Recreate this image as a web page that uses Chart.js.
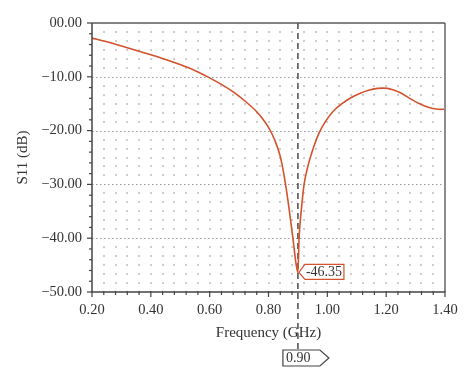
<!DOCTYPE html>
<html><head><meta charset="utf-8">
<script src="https://cdn.jsdelivr.net/npm/chart.js@4"></script>
<style>html,body{margin:0;padding:0;background:#fff}#wrap{width:474px;height:383px;position:relative}</style>
</head><body><div id="wrap"><canvas id="c"></canvas></div>
<script>
// ---- data ----
const frequencyGHz = [0.20,0.24,0.28,0.32,0.36,0.40,0.44,0.48,0.52,0.56,0.60,0.64,0.68,0.72,0.76,0.78,0.80,0.82,0.84,0.855,0.87,0.883,0.893,0.90,0.904,0.912,0.921,0.93,0.94,0.955,0.974,0.995,1.02,1.05,1.08,1.11,1.14,1.17,1.19,1.22,1.25,1.28,1.31,1.34,1.37,1.385,1.40];
const s11dB = [-2.8,-3.35,-3.95,-4.6,-5.25,-5.9,-6.6,-7.35,-8.15,-9.1,-10.2,-11.4,-12.8,-14.5,-16.5,-17.8,-19.4,-21.6,-24.8,-29.0,-34.5,-40.0,-44.5,-46.35,-40.0,-34.5,-30.0,-27.5,-25.4,-22.8,-20.2,-18.2,-16.4,-15.0,-13.9,-13.1,-12.5,-12.15,-12.1,-12.35,-13.0,-14.0,-14.9,-15.6,-16.0,-16.05,-16.0];
const xTickValues = [0.2,0.4,0.6,0.8,1.0,1.2,1.4];
const xTickLabels = ['0.20','0.40','0.60','0.80','1.00','1.20','1.40'];
const yTickValues = [0,-10,-20,-30,-40,-50];
const yTickLabels = ['00.00','\u221210.00','\u221220.00','\u221230.00','\u221240.00','\u221250.00'];
const markerFreq = [0.90];
const markerS11 = [-46.35];
const markerFreqLabel = ['0.90'];
const markerS11Label = ['-46.35'];

const SERIF = '"Liberation Serif", "DejaVu Serif", serif';
const CURVE = '#d2532c';

function lookup(vals, labels, v){
  for (let i=0;i<vals.length;i++) if (Math.abs(vals[i]-v)<1e-6) return labels[i];
  return '';
}

const framePlugin = {
  id:'frame',
  beforeDatasetsDraw(chart){
    const {ctx, chartArea:a, scales:{x,y}} = chart;
    ctx.save();
    // minor grid dots
    ctx.fillStyle = '#a8a8a8';
    const xMin = x.min, xMax = x.max, xStep = 0.04;
    const yStep = 10/6;
    for (let i=1; xMin + i*xStep < xMax - 1e-6; i++){
      const px = Math.round(x.getPixelForValue(xMin + i*xStep));
      for (let j=1; -j*yStep > y.min + 1e-6; j++){
        if (j % 6 === 0) continue;
        const py = Math.round(y.getPixelForValue(-j*yStep));
        ctx.fillRect(px-0.75, py-0.75, 1.5, 1.5);
      }
    }
    // major horizontal dotted lines
    ctx.strokeStyle = '#9a9a9a';
    ctx.lineWidth = 1;
    ctx.setLineDash([1.5,2.5]);
    yTickValues.forEach(v=>{
      if (v===y.max || v===y.min) return;
      const py = Math.round(y.getPixelForValue(v))+0.5;
      ctx.beginPath(); ctx.moveTo(a.left, py); ctx.lineTo(a.right, py); ctx.stroke();
    });
    // marker dashed line
    const mx = x.getPixelForValue(markerFreq[0]);
    ctx.strokeStyle = '#555';
    ctx.lineWidth = 1.6;
    ctx.setLineDash([6,4]);
    ctx.beginPath(); ctx.moveTo(mx, a.top); ctx.lineTo(mx, a.bottom + 58); ctx.stroke();
    ctx.restore();
  },
  afterDatasetsDraw(chart){
    const {ctx, chartArea:a, scales:{x,y}} = chart;
    ctx.save();
    ctx.setLineDash([]);
    // right border
    ctx.strokeStyle = '#8c8c8c'; ctx.lineWidth = 2;
    ctx.beginPath(); ctx.moveTo(a.right, a.top); ctx.lineTo(a.right, a.bottom); ctx.stroke();
    // top border
    ctx.strokeStyle = '#5a5a5a'; ctx.lineWidth = 1.5;
    ctx.beginPath(); ctx.moveTo(a.left, a.top); ctx.lineTo(a.right, a.top); ctx.stroke();
    // left & bottom axes
    ctx.strokeStyle = '#444'; ctx.lineWidth = 1.5;
    ctx.beginPath(); ctx.moveTo(a.left, a.top); ctx.lineTo(a.left, a.bottom); ctx.lineTo(a.right, a.bottom); ctx.stroke();
    // y ticks every 2 dB
    ctx.lineWidth = 1.2;
    for (let v=0; v>=y.min-1e-6; v-=2){
      const py = y.getPixelForValue(v);
      const major = Math.abs(v % 10) < 1e-6;
      ctx.beginPath(); ctx.moveTo(a.left, py); ctx.lineTo(a.left - (major?5:3), py); ctx.stroke();
    }
    // x ticks every 0.04 GHz
    for (let i=0; x.min + i*0.04 <= x.max + 1e-6; i++){
      const px = x.getPixelForValue(x.min + i*0.04);
      const major = i % 5 === 0;
      ctx.beginPath(); ctx.moveTo(px, a.bottom - 1); ctx.lineTo(px, a.bottom + (major?5:3)); ctx.stroke();
    }
    // marker labels
    const mx = x.getPixelForValue(markerFreq[0]);
    const my = y.getPixelForValue(markerS11[0]);
    // value box (orange, pointer to the left)
    ctx.fillStyle = '#fff'; ctx.strokeStyle = CURVE; ctx.lineWidth = 1.2;
    const bl = mx + 7, bt = my - 8, bw = 39, bh = 15;
    ctx.beginPath();
    ctx.moveTo(mx + 1, my);
    ctx.lineTo(bl, bt); ctx.lineTo(bl + bw, bt); ctx.lineTo(bl + bw, bt + bh); ctx.lineTo(bl, bt + bh);
    ctx.closePath(); ctx.fill(); ctx.stroke();
    ctx.fillStyle = '#333'; ctx.font = '14px ' + SERIF; ctx.textBaseline = 'middle'; ctx.textAlign = 'left';
    ctx.fillText(markerS11Label[0], bl + 1, bt + bh/2 + 0.5);
    // frequency box (dark, pointer to the right)
    const fl = mx - 15, ft = a.bottom + 58, fw = 37, fh = 16;
    ctx.fillStyle = '#fff'; ctx.strokeStyle = '#444'; ctx.lineWidth = 1.2;
    ctx.beginPath();
    ctx.moveTo(fl, ft); ctx.lineTo(fl + fw, ft); ctx.lineTo(fl + fw + 9, ft + fh/2); ctx.lineTo(fl + fw, ft + fh); ctx.lineTo(fl, ft + fh);
    ctx.closePath(); ctx.fill(); ctx.stroke();
    ctx.fillStyle = '#333';
    ctx.fillText(markerFreqLabel[0], fl + 3, ft + fh/2 + 0.5);
    ctx.restore();
  }
};

new Chart(document.getElementById('c'), {
  type:'line',
  data:{
    labels: frequencyGHz,
    datasets:[{
      data: frequencyGHz.map((f,i)=>({x:f, y:s11dB[i]})),
      borderColor: CURVE,
      borderWidth: 1.6,
      pointRadius: 0,
      fill: false,
      cubicInterpolationMode: 'monotone'
    }]
  },
  options:{
    responsive:true, maintainAspectRatio:false, animation:false, devicePixelRatio:1,
    layout:{padding:{top:23, right:29, left:0, bottom:0}},
    plugins:{legend:{display:false}, tooltip:{enabled:false}},
    scales:{
      x:{
        type:'linear', min:0.2, max:1.4,
        grid:{display:false, drawTicks:false}, border:{display:false},
        ticks:{stepSize:0.2, padding:9, color:'#333', font:{family:SERIF, size:14.5},
               maxRotation:0, autoSkip:false,
               callback:(v)=>lookup(xTickValues, xTickLabels, v)},
        title:{display:true, text:'Frequency (GHz)', color:'#333', font:{family:SERIF, size:15}, padding:{top:0, bottom:41}},
        afterFit:(s)=>{ s.height = 91; }
      },
      y:{
        min:-50, max:0,
        grid:{display:false, drawTicks:false}, border:{display:false},
        ticks:{stepSize:10, padding:10, color:'#333', font:{family:SERIF, size:14.5},
               callback:(v)=>lookup(yTickValues, yTickLabels, v)},
        title:{display:true, text:'S11 (dB)', color:'#333', font:{family:SERIF, size:15}, padding:{top:14, bottom:0}},
        afterFit:(s)=>{ s.width = 92; }
      }
    }
  },
  plugins:[framePlugin]
});
</script></body></html>
